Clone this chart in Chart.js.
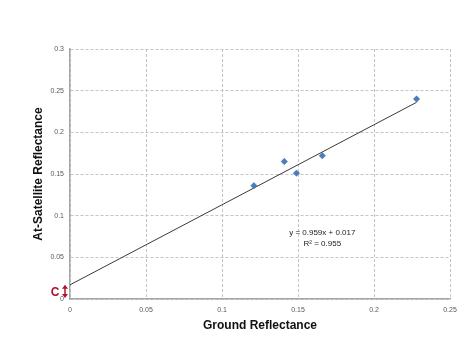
<!DOCTYPE html>
<html>
<head>
<meta charset="utf-8">
<script src="https://cdn.jsdelivr.net/npm/chart.js@4.4.0/dist/chart.umd.min.js"></script>
<style>
    html, body { margin: 0; padding: 0; background: #fff; }
    #wrap { width: 474px; height: 353px; position: relative; }
</style>
</head>
<body>
<div id="wrap"><canvas id="chart"></canvas></div>
<script>
// Measured points (ground vs at-satellite reflectance)
const groundValues = [0.121, 0.141, 0.149, 0.166, 0.228];
const satelliteValues = [0.136, 0.165, 0.151, 0.172, 0.240];

// Linear trend line endpoints (y = 0.959x + 0.017)
const trendX = [0, 0.228];
const trendY = [0.017, 0.236];

const xTicks = [0, 0.05, 0.1, 0.15, 0.2, 0.25];
const yTicks = [0, 0.05, 0.1, 0.15, 0.2, 0.25, 0.3];
const equationLines = ['y = 0.959x + 0.017', 'R² = 0.955'];
const interceptLabel = 'C';

const font = 'Liberation Sans, Arial, sans-serif';

// Draws the regression text and the red "C" intercept marker
const annotations = {
    id: 'annotations',
    afterDatasetsDraw(chart) {
        const ctx = chart.ctx;
        const xs = chart.scales.x;
        const ys = chart.scales.y;
        ctx.save();

        // equation box
        ctx.fillStyle = '#222';
        ctx.font = '8px ' + font;
        ctx.textAlign = 'center';
        ctx.textBaseline = 'middle';
        const ex = xs.getPixelForValue(0.166);
        const ey = ys.getPixelForValue(0.079);
        ctx.fillText(equationLines[0], ex, ey);
        ctx.fillText(equationLines[1], ex, ey + 11);

        // intercept arrow
        const ax = xs.getPixelForValue(0) - 5;
        const y0 = ys.getPixelForValue(0) - 1;
        const y1 = ys.getPixelForValue(trendY[0]);
        ctx.strokeStyle = '#b0102a';
        ctx.fillStyle = '#b0102a';
        ctx.lineWidth = 1.5;
        ctx.beginPath();
        ctx.moveTo(ax, y1 + 3);
        ctx.lineTo(ax, y0 - 3);
        ctx.stroke();
        ctx.beginPath();
        ctx.moveTo(ax, y1);
        ctx.lineTo(ax - 3, y1 + 4);
        ctx.lineTo(ax + 3, y1 + 4);
        ctx.closePath();
        ctx.fill();
        ctx.beginPath();
        ctx.moveTo(ax, y0);
        ctx.lineTo(ax - 3, y0 - 4);
        ctx.lineTo(ax + 3, y0 - 4);
        ctx.closePath();
        ctx.fill();

        ctx.font = 'bold 12px ' + font;
        ctx.textAlign = 'center';
        ctx.fillText(interceptLabel, ax - 10, (y0 + y1) / 2 + 1);
        ctx.restore();
    }
};

new Chart(document.getElementById('chart'), {
    type: 'scatter',
    data: {
        datasets: [
            {
                label: 'Measured',
                data: groundValues.map((x, i) => ({ x: x, y: satelliteValues[i] })),
                pointStyle: 'rectRot',
                pointRadius: 3.2,
                backgroundColor: '#4a7ebb',
                borderColor: '#3a6aa3',
                borderWidth: 0.5
            },
            {
                label: 'Linear fit',
                type: 'line',
                data: trendX.map((x, i) => ({ x: x, y: trendY[i] })),
                borderColor: '#3a3a3a',
                borderWidth: 1,
                pointRadius: 0,
                fill: false
            }
        ]
    },
    options: {
        responsive: true,
        maintainAspectRatio: false,
        animation: false,
        layout: { padding: { left: 25, right: 24, top: 49, bottom: 20 } },
        plugins: {
            legend: { display: false },
            tooltip: { enabled: false }
        },
        scales: {
            x: {
                type: 'linear',
                min: 0,
                max: 0.25,
                afterBuildTicks: (scale) => { scale.ticks = xTicks.map(v => ({ value: v })); },
                afterFit: (scale) => { scale.height = 34; },
                grid: {
                    color: '#c4c4c4',
                    drawTicks: false,
                    lineWidth: 1
                },
                border: { color: '#a6a6a6', width: 1.5, dash: [3, 2] },
                ticks: {
                    color: '#595959',
                    font: { size: 7, family: font },
                    padding: 7,
                    maxRotation: 0,
                    callback: (v) => String(v)
                },
                title: {
                    display: true,
                    text: 'Ground Reflectance',
                    color: '#111',
                    font: { size: 12, weight: 'bold', family: font },
                    padding: { top: 4, bottom: 0 }
                }
            },
            y: {
                type: 'linear',
                min: 0,
                max: 0.3,
                afterBuildTicks: (scale) => { scale.ticks = yTicks.map(v => ({ value: v })); },
                afterFit: (scale) => { scale.width = 45; },
                grid: {
                    color: '#c4c4c4',
                    drawTicks: false,
                    lineWidth: 1
                },
                border: { color: '#a6a6a6', width: 1.5, dash: [3, 2] },
                ticks: {
                    color: '#595959',
                    font: { size: 7, family: font },
                    padding: 6,
                    callback: (v) => String(v)
                },
                title: {
                    display: true,
                    text: 'At-Satellite Reflectance',
                    color: '#111',
                    font: { size: 12, weight: 'bold', family: font },
                    padding: { top: 6, bottom: 0 }
                }
            }
        }
    },
    plugins: [annotations]
});
</script>
</body>
</html>
